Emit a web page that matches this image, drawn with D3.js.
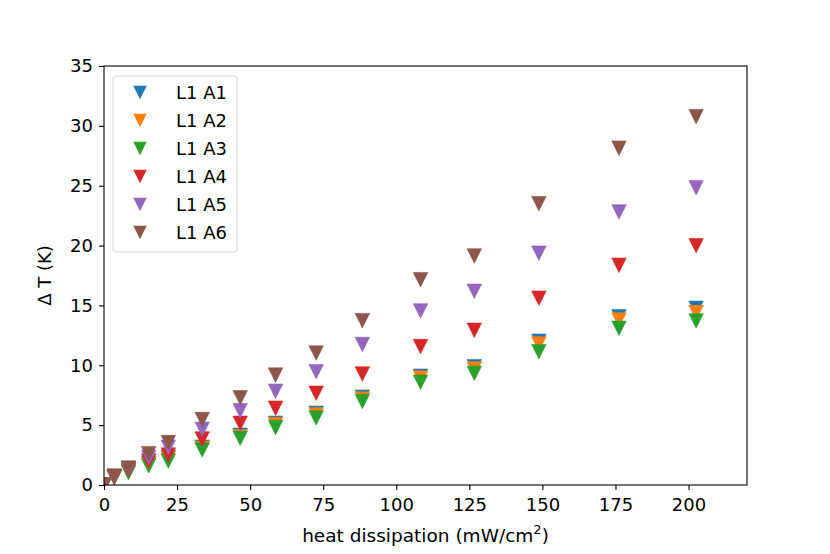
<!DOCTYPE html>
<html>
<head>
<meta charset="utf-8">
<script src="https://cdn.jsdelivr.net/npm/d3@7"></script>
<style>
  body { margin: 0; background: #fff; }
  text { font-family: "DejaVu Sans", sans-serif; fill: #000; }
</style>
</head>
<body>
<div id="chart"></div>
<script>
// heat dissipation (mW/cm2) shared by all series
const heat = [0, 3.5, 8.4, 15.3, 22.0, 33.6, 46.6, 58.7, 72.6, 88.4, 108.3, 126.7, 148.8, 176.2, 202.6]

// delta T (K) per series
const seriesNames = ["L1 A1", "L1 A2", "L1 A3", "L1 A4", "L1 A5", "L1 A6"]
const a1 = [0, 0.65, 1.15, 1.8, 2.3, 3.15, 4.15, 5.15, 5.99, 7.33, 9.08, 9.88, 12.0, 14.06, 14.76]
const a2 = [0, 0.63, 1.1, 1.72, 2.2, 3.07, 4.04, 5.05, 5.85, 7.18, 8.94, 9.69, 11.78, 13.78, 14.4]
const a3 = [0, 0.6, 1.05, 1.6, 2.0, 2.92, 3.9, 4.8, 5.6, 6.98, 8.58, 9.33, 11.14, 13.09, 13.7]
const a4 = [0, 0.68, 1.25, 2.0, 2.5, 3.84, 5.15, 6.41, 7.66, 9.27, 11.56, 12.92, 15.6, 18.35, 19.99]
const a5 = [0, 0.72, 1.35, 2.3, 3.15, 4.65, 6.21, 7.83, 9.47, 11.74, 14.54, 16.18, 19.36, 22.81, 24.84]
const a6 = [0, 0.75, 1.42, 2.62, 3.54, 5.47, 7.28, 9.18, 11.02, 13.73, 17.15, 19.13, 23.5, 28.13, 30.77]
const seriesValues = [a1, a2, a3, a4, a5, a6]
const colors = ["#1f77b4", "#ff7f0e", "#2ca02c", "#d62728", "#9467bd", "#8c564b"]

const xTicks = [0, 25, 50, 75, 100, 125, 150, 175, 200]
const yTicks = [0, 5, 10, 15, 20, 25, 30, 35]

const W = 830, H = 554
const margin = { top: 66, right: 83, bottom: 69, left: 104 }
const plotW = W - margin.left - margin.right
const plotH = H - margin.top - margin.bottom

const svg = d3.select("#chart").append("svg")
  .attr("width", W).attr("height", H)

const g = svg.append("g")
  .attr("transform", `translate(${margin.left},${margin.top})`)

const x = d3.scaleLinear().domain([0, 220]).range([0, plotW])
const y = d3.scaleLinear().domain([0, 35]).range([plotH, 0])

// downward triangle centred on (cx, cy)
const ms = 14.5
function triDown(cx, cy, s) {
  const h = s / 2
  return `M${cx},${cy + h}L${cx - h},${cy - h}L${cx + h},${cy - h}Z`
}

svg.append("defs").append("clipPath").attr("id", "plotclip")
  .append("rect").attr("width", plotW).attr("height", plotH)

// points, A1 first so later series sit on top
const pts = g.append("g").attr("clip-path", "url(#plotclip)")
seriesValues.forEach((vals, si) => {
  pts.append("g").selectAll("path")
    .data(vals.map((v, i) => ({ x: heat[i], y: v })))
    .join("path")
    .attr("d", d => triDown(x(d.x), y(d.y), ms))
    .attr("fill", colors[si])
    .attr("stroke", colors[si]).attr("stroke-width", 0.6)
})

// axes
const xAxis = g.append("g")
  .attr("transform", `translate(0,${plotH})`)
  .call(d3.axisBottom(x).tickValues(xTicks).tickSize(5).tickPadding(6))
const yAxis = g.append("g")
  .call(d3.axisLeft(y).tickValues(yTicks).tickSize(5).tickPadding(6))

;[xAxis, yAxis].forEach(ax => {
  ax.select(".domain").remove()
  ax.selectAll(".tick line").attr("stroke", "#000").attr("stroke-width", 1.1)
  ax.selectAll("text").style("font-size", "18px").style("font-family", "DejaVu Sans")
})
xAxis.selectAll("text").attr("dy", "0.85em")

// frame
g.append("rect")
  .attr("width", plotW).attr("height", plotH)
  .attr("fill", "none").attr("stroke", "#000").attr("stroke-width", 1.1)

// axis labels
const xl = g.append("text")
  .attr("x", plotW / 2).attr("y", plotH + 57)
  .attr("text-anchor", "middle")
  .style("font-size", "18.5px")
xl.append("tspan").text("heat dissipation (mW/cm")
xl.append("tspan").attr("dy", -8).style("font-size", "13px").text("2")
xl.append("tspan").attr("dy", 8).text(")")

g.append("text")
  .attr("transform", "rotate(-90)")
  .attr("x", -plotH / 2).attr("y", -53)
  .attr("text-anchor", "middle")
  .style("font-size", "18px")
  .text("Δ T (K)")

// legend
const lg = g.append("g").attr("transform", "translate(9,10)")
lg.append("rect")
  .attr("width", 124).attr("height", 176)
  .attr("rx", 3).attr("ry", 3)
  .attr("fill", "#fff").attr("fill-opacity", 0.8)
  .attr("stroke", "#d6d6d6").attr("stroke-width", 1)

seriesNames.forEach((name, i) => {
  const cy = 16.5 + i * 28
  lg.append("path")
    .attr("d", triDown(27, cy, 13.5))
    .attr("fill", colors[i])
  lg.append("text")
    .attr("x", 63).attr("y", cy + 6.5)
    .style("font-size", "18px")
    .text(name)
})
</script>
</body>
</html>
